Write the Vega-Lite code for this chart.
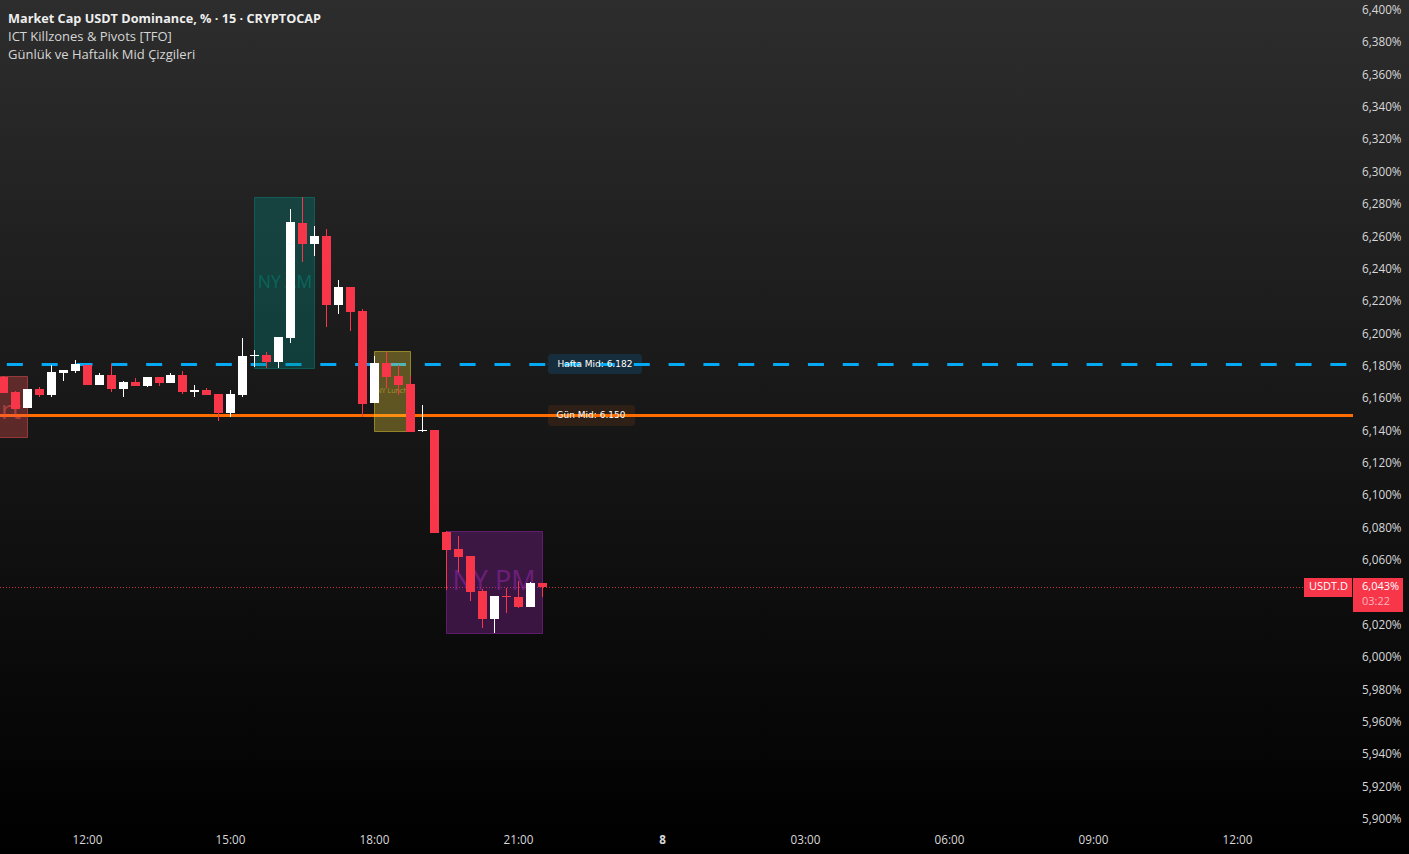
{
  "$schema": "https://vega.github.io/schema/vega-lite/v6.json",
  "width": 1409,
  "height": 854,
  "padding": 0,
  "autosize": {"type": "none"},
  "background": "#000000",
  "title": {
    "text": "Market Cap USDT Dominance, % · 15 · CRYPTOCAP",
    "subtitle": ["ICT Killzones & Pivots [TFO]", "Günlük ve Haftalık Mid Çizgileri"],
    "anchor": "start",
    "frame": "group",
    "orient": "top",
    "offset": -62,
    "dx": 8,
    "font": "Open Sans",
    "fontSize": 12.7,
    "fontWeight": "bold",
    "color": "#eeeeee",
    "subtitleFont": "Open Sans",
    "subtitleFontSize": 13,
    "subtitleColor": "#d6d6d6",
    "subtitleLineHeight": 18,
    "subtitlePadding": 5
  },
  "config": {
    "view": {"stroke": null},
    "legend": {"disable": true},
    "scale": {"continuousPadding": 0},
    "axis": {"labelOverlap": false, "labelFont": "Open Sans", "labelFontSize": 11.7, "labelColor": "#d8d8d8"},
    "text": {"font": "Open Sans"}
  },
  "datasets": {
    "candles": [
      {"t": "2025-11-07T10:15:00Z", "open": 6.1726, "high": 6.1732, "low": 6.1627, "close": 6.1627},
      {"t": "2025-11-07T10:30:00Z", "open": 6.1633, "high": 6.1639, "low": 6.1528, "close": 6.1528},
      {"t": "2025-11-07T10:45:00Z", "open": 6.1534, "high": 6.1651, "low": 6.1534, "close": 6.1651},
      {"t": "2025-11-07T11:00:00Z", "open": 6.1651, "high": 6.1664, "low": 6.1602, "close": 6.1614},
      {"t": "2025-11-07T11:15:00Z", "open": 6.1614, "high": 6.18, "low": 6.1602, "close": 6.1756},
      {"t": "2025-11-07T11:30:00Z", "open": 6.175, "high": 6.1769, "low": 6.1701, "close": 6.1769},
      {"t": "2025-11-07T11:45:00Z", "open": 6.1763, "high": 6.1831, "low": 6.175, "close": 6.1806},
      {"t": "2025-11-07T12:00:00Z", "open": 6.18, "high": 6.18, "low": 6.1676, "close": 6.1676},
      {"t": "2025-11-07T12:15:00Z", "open": 6.1676, "high": 6.175, "low": 6.1676, "close": 6.1738},
      {"t": "2025-11-07T12:30:00Z", "open": 6.1738, "high": 6.1806, "low": 6.1633, "close": 6.1651},
      {"t": "2025-11-07T12:45:00Z", "open": 6.1651, "high": 6.1701, "low": 6.1602, "close": 6.1695},
      {"t": "2025-11-07T13:00:00Z", "open": 6.1695, "high": 6.1719, "low": 6.167, "close": 6.167},
      {"t": "2025-11-07T13:15:00Z", "open": 6.167, "high": 6.1726, "low": 6.1664, "close": 6.1726},
      {"t": "2025-11-07T13:30:00Z", "open": 6.1726, "high": 6.1726, "low": 6.167, "close": 6.1689},
      {"t": "2025-11-07T13:45:00Z", "open": 6.1689, "high": 6.175, "low": 6.1689, "close": 6.1738},
      {"t": "2025-11-07T14:00:00Z", "open": 6.1738, "high": 6.1763, "low": 6.1621, "close": 6.1633},
      {"t": "2025-11-07T14:15:00Z", "open": 6.1633, "high": 6.1676, "low": 6.1602, "close": 6.1645},
      {"t": "2025-11-07T14:30:00Z", "open": 6.1645, "high": 6.1658, "low": 6.1614, "close": 6.1614},
      {"t": "2025-11-07T14:45:00Z", "open": 6.1621, "high": 6.1621, "low": 6.1454, "close": 6.1503},
      {"t": "2025-11-07T15:00:00Z", "open": 6.1503, "high": 6.1645, "low": 6.1478, "close": 6.1621},
      {"t": "2025-11-07T15:15:00Z", "open": 6.1614, "high": 6.1967, "low": 6.1602, "close": 6.1855},
      {"t": "2025-11-07T15:30:00Z", "open": 6.1855, "high": 6.1892, "low": 6.1787, "close": 6.1862},
      {"t": "2025-11-07T15:45:00Z", "open": 6.1862, "high": 6.188, "low": 6.1781, "close": 6.1818},
      {"t": "2025-11-07T16:00:00Z", "open": 6.1818, "high": 6.1973, "low": 6.1781, "close": 6.1973},
      {"t": "2025-11-07T16:15:00Z", "open": 6.1967, "high": 6.2764, "low": 6.1936, "close": 6.2684},
      {"t": "2025-11-07T16:30:00Z", "open": 6.2677, "high": 6.2838, "low": 6.2436, "close": 6.2548},
      {"t": "2025-11-07T16:45:00Z", "open": 6.2548, "high": 6.2659, "low": 6.2473, "close": 6.2597},
      {"t": "2025-11-07T17:00:00Z", "open": 6.2597, "high": 6.264, "low": 6.2035, "close": 6.2171},
      {"t": "2025-11-07T17:15:00Z", "open": 6.2171, "high": 6.2325, "low": 6.2115, "close": 6.2282},
      {"t": "2025-11-07T17:30:00Z", "open": 6.2282, "high": 6.2282, "low": 6.201, "close": 6.2127},
      {"t": "2025-11-07T17:45:00Z", "open": 6.2134, "high": 6.2146, "low": 6.1478, "close": 6.1559},
      {"t": "2025-11-07T18:00:00Z", "open": 6.1565, "high": 6.1855, "low": 6.1565, "close": 6.1812},
      {"t": "2025-11-07T18:15:00Z", "open": 6.1812, "high": 6.188, "low": 6.1658, "close": 6.1726},
      {"t": "2025-11-07T18:30:00Z", "open": 6.1732, "high": 6.18, "low": 6.1614, "close": 6.1676},
      {"t": "2025-11-07T18:45:00Z", "open": 6.1682, "high": 6.1732, "low": 6.1386, "close": 6.1386},
      {"t": "2025-11-07T19:00:00Z", "open": 6.1392, "high": 6.1553, "low": 6.1386, "close": 6.1398},
      {"t": "2025-11-07T19:15:00Z", "open": 6.1398, "high": 6.1398, "low": 6.0761, "close": 6.0761},
      {"t": "2025-11-07T19:30:00Z", "open": 6.0768, "high": 6.0774, "low": 6.0409, "close": 6.0656},
      {"t": "2025-11-07T19:45:00Z", "open": 6.0662, "high": 6.0743, "low": 6.052, "close": 6.0613},
      {"t": "2025-11-07T20:00:00Z", "open": 6.0619, "high": 6.0619, "low": 6.0341, "close": 6.0397},
      {"t": "2025-11-07T20:15:00Z", "open": 6.0403, "high": 6.0415, "low": 6.0174, "close": 6.023},
      {"t": "2025-11-07T20:30:00Z", "open": 6.023, "high": 6.0372, "low": 6.0143, "close": 6.0372},
      {"t": "2025-11-07T20:45:00Z", "open": 6.0372, "high": 6.0422, "low": 6.0267, "close": 6.0366},
      {"t": "2025-11-07T21:00:00Z", "open": 6.0366, "high": 6.0465, "low": 6.0298, "close": 6.0304},
      {"t": "2025-11-07T21:15:00Z", "open": 6.0304, "high": 6.0459, "low": 6.0304, "close": 6.0452},
      {"t": "2025-11-07T21:30:00Z", "open": 6.0452, "high": 6.0452, "low": 6.0366, "close": 6.043}
    ],
    "sessions": [
      {"session": "London", "label": "rt", "start": "2025-11-07T10:00:00Z", "end": "2025-11-07T10:45:00Z", "top": 6.1732, "bottom": 6.1355, "mid_t": "2025-11-07T10:25:00Z", "mid": 6.1518},
      {"session": "NY AM", "label": "NY AM", "start": "2025-11-07T15:30:00Z", "end": "2025-11-07T16:45:00Z", "top": 6.2838, "bottom": 6.1781, "mid_t": "2025-11-07T16:08:00Z", "mid": 6.2305},
      {"session": "NY Lunch", "label": "NY Lunch", "start": "2025-11-07T18:00:00Z", "end": "2025-11-07T18:45:00Z", "top": 6.1886, "bottom": 6.1392, "mid_t": "2025-11-07T18:22:00Z", "mid": 6.1639},
      {"session": "NY PM", "label": "NY PM", "start": "2025-11-07T19:30:00Z", "end": "2025-11-07T21:30:00Z", "top": 6.0774, "bottom": 6.0143, "mid_t": "2025-11-07T20:30:00Z", "mid": 6.0459}
    ],
    "mids": [
      {"line": "Hafta", "label": "Hafta Mid: 6.182", "price": 6.1806, "from": "2025-11-07T10:11:30Z", "to": "2025-11-08T14:26:00Z", "start": "2025-11-07T21:38:00Z", "end": "2025-11-07T23:35:36Z", "top": 6.1868, "bottom": 6.1744, "text_t": "2025-11-07T22:36:00Z"},
      {"line": "Gün", "label": "Gün Mid: 6.150", "price": 6.1491, "from": "2025-11-07T10:11:30Z", "to": "2025-11-08T14:26:00Z", "start": "2025-11-07T21:38:00Z", "end": "2025-11-07T23:26:48Z", "top": 6.1553, "bottom": 6.1423, "text_t": "2025-11-07T22:32:00Z"}
    ],
    "tags": [
      {"start": "2025-11-08T13:24:36Z", "end": "2025-11-08T14:24:40Z", "top": 6.0483, "bottom": 6.0366},
      {"start": "2025-11-08T14:25:54Z", "end": "2025-11-08T15:28:36Z", "top": 6.0483, "bottom": 6.0273}
    ],
    "tagText": [
      {"kind": "tag", "label": "USDT.D", "t": "2025-11-08T13:31:00Z", "price": 6.0425},
      {"kind": "tag", "label": "6,043%", "t": "2025-11-08T14:37:00Z", "price": 6.0425},
      {"kind": "timer", "label": "03:22", "t": "2025-11-08T14:37:00Z", "price": 6.0335}
    ],
    "last": [
      {"from": "2025-11-07T10:11:30Z", "to": "2025-11-08T13:24:36Z", "price": 6.043}
    ]
  },
  "layer": [
    {
      "data": {"values": [{}]},
      "mark": {
        "type": "rect",
        "color": {
          "gradient": "linear", "x1": 0, "y1": 0, "x2": 0, "y2": 1,
          "stops": [{"offset": 0, "color": "#2d2d2d"}, {"offset": 1, "color": "#000000"}]
        }
      }
    },
    {
      "data": {"name": "mids"},
      "mark": {"type": "rect", "cornerRadius": 3},
      "encoding": {
        "x": {
          "field": "start", "type": "temporal",
          "scale": {"type": "utc", "domain": ["2025-11-07T10:11:30Z", "2025-11-08T15:36:00Z"], "nice": false, "round": true, "padding": 0},
          "axis": {
            "title": null, "orient": "bottom", "domain": false, "ticks": false, "grid": false, "zindex": 1,
            "values": [1762516800000, 1762527600000, 1762538400000, 1762549200000, 1762560000000, 1762570800000, 1762581600000, 1762592400000, 1762603200000],
            "labelExpr": "utchours(datum.value) == 0 ? '8' : utcFormat(datum.value, '%H:%M')",
            "labelFontWeight": {"condition": {"test": "utchours(datum.value) == 0", "value": "bold"}, "value": "normal"},
            "labelPadding": -15, "labelBaseline": "middle", "labelFlush": false, "labelBound": false
          }
        },
        "x2": {"field": "end"},
        "y": {
          "field": "top", "type": "quantitative",
          "scale": {"domain": [5.87775, 6.40556], "nice": false, "zero": false, "round": true},
          "axis": {
            "title": null, "orient": "right", "domain": false, "ticks": false, "grid": false, "zindex": 1,
            "tickCount": 30,
            "values": [5.9, 5.92, 5.94, 5.96, 5.98, 6, 6.02, 6.06, 6.08, 6.1, 6.12, 6.14, 6.16, 6.18, 6.2, 6.22, 6.24, 6.26, 6.28, 6.3, 6.32, 6.34, 6.36, 6.38, 6.4],
            "labelExpr": "replace(format(datum.value, '.3f'), '.', ',') + '%'",
            "labelAlign": "right", "labelBaseline": "middle", "labelPadding": -8, "labelBound": false, "labelFlush": false
          }
        },
        "y2": {"field": "bottom"},
        "color": {
          "field": "line", "type": "nominal",
          "scale": {
            "domain": ["London", "NY AM", "NY Lunch", "NY PM", "Hafta", "Gün", "tag", "timer"],
            "range": ["#ef5350", "#00897b", "#ecd136", "#9c27b0", "#152d3c", "#2e2016", "#ffffff", "#f9b4bc"]
          }
        }
      }
    },
    {
      "data": {"name": "mids"},
      "mark": {"type": "point", "shape": "triangle-left", "filled": true, "size": 30, "opacity": 1},
      "encoding": {
        "x": {"field": "start", "type": "temporal"},
        "y": {"field": "price", "type": "quantitative"},
        "color": {"field": "line", "type": "nominal"}
      }
    },
    {
      "data": {"name": "mids"},
      "transform": [{"filter": "datum.line == 'Hafta'"}],
      "mark": {"type": "rule", "color": "#03a9f4", "strokeWidth": 3, "strokeDash": [16, 18.83], "strokeDashOffset": 28, "yOffset": 0.5},
      "encoding": {
        "x": {"field": "from", "type": "temporal"},
        "x2": {"field": "to"},
        "y": {"field": "price", "type": "quantitative"}
      }
    },
    {
      "data": {"name": "mids"},
      "transform": [{"filter": "datum.line == 'Gün'"}],
      "mark": {"type": "rule", "color": "#ff6d00", "strokeWidth": 3, "yOffset": 0.5},
      "encoding": {
        "x": {"field": "from", "type": "temporal"},
        "x2": {"field": "to"},
        "y": {"field": "price", "type": "quantitative"}
      }
    },
    {
      "data": {"name": "last"},
      "mark": {"type": "rule", "color": "#f7364a", "strokeWidth": 1, "strokeDash": [1, 2], "opacity": 0.8, "yOffset": 0.5},
      "encoding": {
        "x": {"field": "from", "type": "temporal"},
        "x2": {"field": "to"},
        "y": {"field": "price", "type": "quantitative"}
      }
    },
    {
      "data": {"name": "sessions"},
      "mark": {"type": "rect", "fillOpacity": 0.33, "strokeOpacity": 0.5, "strokeWidth": 1, "xOffset": 0.5, "x2Offset": 0.5, "yOffset": 0.5, "y2Offset": 0.5, "clip": true},
      "encoding": {
        "x": {"field": "start", "type": "temporal"},
        "x2": {"field": "end"},
        "y": {"field": "top", "type": "quantitative"},
        "y2": {"field": "bottom"},
        "color": {"field": "session", "type": "nominal"},
        "stroke": {
          "field": "session", "type": "nominal",
          "scale": {"domain": ["London", "NY AM", "NY Lunch", "NY PM"], "range": ["#ef5350", "#00897b", "#ecd136", "#9c27b0"]}
        }
      }
    },
    {
      "data": {"name": "sessions"},
      "mark": {"type": "text", "align": "center", "baseline": "middle", "opacity": 0.5},
      "encoding": {
        "x": {"field": "mid_t", "type": "temporal"},
        "y": {"field": "mid", "type": "quantitative"},
        "text": {"field": "label"},
        "color": {"field": "session", "type": "nominal"},
        "size": {
          "field": "session", "type": "nominal",
          "scale": {"type": "ordinal", "domain": ["London", "NY AM", "NY Lunch", "NY PM"], "range": [26, 17.5, 7, 27]}
        }
      }
    },
    {
      "data": {"name": "candles"},
      "mark": {"type": "rule", "strokeWidth": 1, "xOffset": 0.5},
      "encoding": {
        "x": {"field": "t", "type": "temporal"},
        "y": {"field": "low", "type": "quantitative"},
        "y2": {"field": "high"},
        "color": {"condition": {"test": "datum.close >= datum.open", "value": "#ffffff"}, "value": "#f7364a"}
      }
    },
    {
      "data": {"name": "candles"},
      "mark": {"type": "bar", "size": 9, "xOffset": 0.5},
      "encoding": {
        "x": {"field": "t", "type": "temporal"},
        "y": {"field": "open", "type": "quantitative"},
        "y2": {"field": "close"},
        "color": {"condition": {"test": "datum.close >= datum.open", "value": "#ffffff"}, "value": "#f7364a"}
      }
    },
    {
      "data": {"name": "mids"},
      "mark": {"type": "text", "align": "center", "baseline": "middle", "font": "DejaVu Sans", "fontSize": 9, "color": "#ffffff"},
      "encoding": {
        "x": {"field": "text_t", "type": "temporal"},
        "y": {"field": "price", "type": "quantitative"},
        "text": {"field": "label"}
      }
    },
    {
      "data": {"name": "tags"},
      "mark": {"type": "rect", "color": "#f7364a"},
      "encoding": {
        "x": {"field": "start", "type": "temporal"},
        "x2": {"field": "end"},
        "y": {"field": "top", "type": "quantitative"},
        "y2": {"field": "bottom"}
      }
    },
    {
      "data": {"name": "tagText"},
      "mark": {"type": "text", "align": "left", "baseline": "middle", "fontSize": 11},
      "encoding": {
        "x": {"field": "t", "type": "temporal"},
        "y": {"field": "price", "type": "quantitative"},
        "text": {"field": "label"},
        "color": {"field": "kind", "type": "nominal"}
      }
    }
  ]
}
